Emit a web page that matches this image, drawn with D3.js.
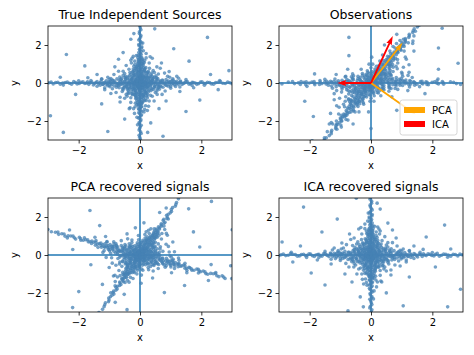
<!DOCTYPE html>
<html><head><meta charset="utf-8">
<script src="https://cdn.jsdelivr.net/npm/d3@7"></script>
<style>body{margin:0;background:#fff}svg{display:block;font-family:"DejaVu Sans",sans-serif}</style>
</head><body><svg id="c" width="474" height="355"></svg>
<script>
const corePts = [
[-0.85,0.03],[-0.72,-0.05],[-0.64,0.08],[-0.55,-0.02],[-0.48,0.06],[-0.41,-0.09],[-0.35,0.01],[-0.29,0.11],[-0.22,-0.04],[-0.17,0.07],[-0.11,-0.12],[-0.06,0.02],[-0.02,-0.06],[0.03,0.09],[0.08,-0.03],[0.13,0.05],[0.19,-0.1],[0.24,0.02],[0.31,-0.06],[0.37,0.08],[0.44,-0.01],[0.52,0.05],[0.59,-0.07],[0.67,0.02],[0.78,-0.04],[0.88,0.06],
[-0.62,0.18],[-0.5,-0.21],[-0.42,0.25],[-0.33,-0.16],[-0.26,0.22],[-0.19,-0.28],[-0.13,0.17],[-0.08,-0.19],[-0.03,0.29],[0.02,-0.24],[0.07,0.2],[0.11,-0.15],[0.16,0.27],[0.22,-0.23],[0.28,0.16],[0.35,-0.27],[0.41,0.21],[0.49,-0.18],[0.58,0.24],[-0.71,-0.15],[0.69,-0.2],[-0.04,0.14],[0.05,-0.13],[-0.15,0.12],[0.18,-0.09],
[-0.47,0.35],[-0.38,-0.41],[-0.3,0.46],[-0.24,-0.33],[-0.18,0.39],[-0.12,-0.48],[-0.07,0.33],[-0.02,-0.37],[0.03,0.44],[0.08,-0.31],[0.12,0.37],[0.17,-0.45],[0.23,0.32],[0.29,-0.38],[0.36,0.42],[0.44,-0.34],[-0.55,-0.36],[0.52,0.38],[-0.09,0.49],[0.06,-0.5],[-0.27,0.31],[0.25,-0.29],
[-0.33,0.55],[-0.25,-0.62],[-0.18,0.66],[-0.11,-0.55],[-0.05,0.58],[0.01,-0.67],[0.06,0.53],[0.1,-0.59],[0.15,0.68],[0.21,-0.54],[0.27,0.61],[-0.39,-0.52],[0.34,-0.65],[-0.14,-0.7],[0.02,0.7],[-0.06,-0.6],[0.09,0.62],
[-0.22,0.74],[-0.14,-0.82],[-0.08,0.88],[-0.03,-0.95],[0.02,0.79],[0.05,-0.76],[0.1,0.93],[0.16,-0.88],[-0.17,0.97],[0.19,0.81],[-0.06,-0.73],[0.04,-1.0],[-0.01,0.99],[0.07,0.72],[-0.1,-0.91],[0.24,-0.77],
[-0.01,0.01],[0.02,-0.02],[-0.04,0.05],[0.05,0.04],[-0.03,-0.03],[0.01,0.12],[-0.07,-0.1],[0.09,0.1],[-0.12,0.04],[0.14,-0.05],[0.0,-0.16],[-0.02,0.22],[0.04,-0.28],[-0.09,0.26],[0.11,0.3],[-0.05,-0.33],[0.2,0.12],[-0.21,-0.1],[0.15,-0.2],[-0.16,0.18],[0.01,0.36],[-0.01,-0.42],[0.26,-0.01],[-0.26,0.03],[0.33,0.05],[-0.31,-0.04],[0.07,0.16],[-0.08,-0.2],
[-0.66,0.31],[0.63,-0.33],[-0.58,-0.45],[0.6,0.47],[0.73,0.15],[-0.77,-0.22],[0.47,0.55],[-0.45,-0.6],[0.4,-0.7],[-0.36,0.72]
];
const coreFillPts = [
[-0.28,-0.45],[-0.21,0.47],[-0.14,-0.41],[0.13,0.44],[0.2,-0.41],[0.27,0.47],
[-0.25,0.12],[-0.18,-0.06],[-0.11,0.21],[-0.05,-0.24],[0.03,0.27],[0.1,-0.22],[0.17,0.06],[0.24,-0.14],[0.29,0.29],
[-0.29,-0.22],[-0.23,0.38],[-0.15,-0.35],[-0.07,0.42],[0.0,-0.47],[0.06,0.38],[0.14,-0.34],[0.21,0.4],[0.28,-0.46],
[-0.2,0.02],[-0.13,-0.15],[-0.04,0.09],[0.04,-0.09],[0.12,0.15],[0.19,-0.03],[-0.09,0.06],[0.09,-0.12],[0.0,0.19],[0.0,-0.06],
[-0.58,0.12],[-0.52,-0.13],[-0.46,0.17],[-0.4,-0.26],[-0.34,0.2],[0.34,-0.14],[0.4,0.13],[0.46,-0.24],[0.53,0.12],[0.58,-0.12],[-0.57,-0.29],[-0.49,0.29],[-0.38,0.04],[0.38,-0.02],[0.48,0.3],[0.56,-0.31],[-0.44,-0.05],[0.45,0.05],[-0.62,-0.06],[0.63,0.07],[-0.35,-0.32],[0.33,0.33],
[-0.19,0.52],[0.18,-0.52],[-0.1,0.6],[0.1,-0.64],[-0.02,0.64],[0.03,-0.57],[-0.15,0.78],[0.14,-0.72],[-0.04,0.83],[0.04,-0.86],[0.12,0.8],[-0.12,-0.77],[-0.07,0.95],[0.08,-0.97],[0.17,0.58],[-0.17,-0.6],[0.0,0.9],[0.0,-0.8],[-0.11,0.7],[0.11,-0.68],
[-0.92,-0.08],[-0.82,0.1],[-0.76,-0.12],[-0.68,0.15],[0.66,-0.14],[0.74,0.11],[0.83,-0.09],[0.93,0.1],[-0.88,0.13],[0.86,-0.13],[-0.7,-0.02],[0.72,0.0],[-0.8,0.0],[0.81,0.02],
[-0.08,1.02],[0.07,-1.06],[0.1,1.1],[-0.1,-1.15],[-0.05,1.18],[0.06,-1.25],[0.08,1.25],[-0.07,1.33],[0.0,-1.36],
[-0.5,0.5],[0.5,-0.5],[-0.42,-0.7],[0.43,0.66],[-0.3,-0.78],[0.31,0.77],[-0.55,0.62],[0.56,-0.6],[0.38,0.52],[-0.37,-0.55],
[-1.25,0.22],[-1.15,-0.25],[-1.05,0.3],[-0.98,-0.2],[-0.95,0.24],[1.0,-0.27],[1.07,0.22],[1.16,-0.18],[1.26,0.25],[0.97,0.3],[-1.3,-0.12],[1.32,0.1],[-0.9,-0.3],[0.9,0.35],
[-0.3,1.2],[0.28,-1.22],[-0.22,1.4],[0.24,-1.45],[0.2,1.55],[-0.18,-1.6],[0.3,1.05],[-0.3,-1.02],[-0.26,1.3],[0.33,1.38],[-0.32,-1.3],[0.15,-1.38],
[-0.7,0.62],[0.72,-0.6],[-0.65,-0.75],[0.66,0.78],[-0.85,0.45],[0.82,-0.42],[-0.45,0.92],[0.46,-0.95],[-0.78,-0.5],[0.8,0.52]
];
const coreDensePts = [
[-0.6,0.0],[-0.5,0.08],[-0.45,-0.15],[-0.36,0.12],[-0.3,-0.1],[-0.24,0.26],[-0.2,-0.2],[-0.16,0.32],[-0.12,-0.28],[-0.06,0.36],[-0.02,-0.3],[0.02,0.32],[0.07,-0.38],[0.1,0.26],[0.15,-0.27],[0.2,0.22],[0.25,-0.21],[0.3,0.12],[0.36,-0.1],[0.42,0.16],[0.5,-0.05],[0.55,0.18],[0.62,-0.2],[-0.68,-0.25],
[-0.25,0.58],[-0.16,-0.5],[-0.08,0.55],[-0.03,-0.52],[0.05,0.6],[0.13,-0.6],[0.22,0.52],[0.24,-0.6],[-0.12,0.85],[0.13,-0.95],[0.06,1.02],[-0.05,-1.1],[0.15,1.2],[-0.16,-1.25],
[-0.95,0.07],[-1.0,-0.12],[-1.1,0.12],[-1.2,-0.08],[0.95,-0.06],[1.03,0.12],[1.12,-0.1],[1.2,0.09],
[-0.15,0.0],[0.15,0.0],[0.0,0.05],[0.0,-0.25],[0.06,0.08],[-0.1,-0.04],[-0.35,0.38],[0.36,-0.4],[-0.42,-0.32],[0.4,0.35],[0.05,0.48],[-0.05,0.7],[0.0,-0.64],[-0.2,-0.4],
[-0.65,-0.1],[-0.6,0.25],[-0.53,-0.26],[-0.47,0.22],[-0.43,-0.2],[-0.39,0.31],[-0.32,-0.26],[-0.27,0.18],[-0.21,-0.15],[0.21,0.15],[0.27,-0.18],[0.32,0.24],[0.39,-0.31],[0.43,0.26],[0.47,-0.16],[0.54,0.27],[0.6,-0.25],[0.66,0.12],
[-0.27,-0.55],[-0.22,0.62],[-0.15,-0.66],[-0.1,0.78],[-0.05,-0.85],[0.05,0.86],[0.1,-0.8],[0.16,0.75],[0.22,-0.68],[0.26,0.56],[-0.2,0.88],[0.2,-0.92],[-0.09,-1.02],[0.1,1.0],
[-0.15,0.45],[0.15,-0.45],[-0.1,0.12],[0.1,-0.08],[-0.05,-0.15],[0.05,0.22],[-0.22,-0.3],[0.22,0.3],[-0.35,-0.05],[0.35,0.02],[0.0,0.42],[0.0,-0.38],
[-0.75,0.22],[0.75,-0.22],[-0.85,-0.15],[0.85,0.18],[-1.0,0.2],[1.0,-0.18],[-0.55,0.4],[0.55,-0.42]
];
const hArmPts = [
[-0.95,-0.02],[-1.02,0.05],[-1.1,-0.07],[-1.18,0.01],[-1.27,0.09],[-1.35,-0.04],[-1.44,0.03],[-1.52,-0.1],[-1.63,0.02],[-1.71,0.06],[-1.8,-0.03],[-1.92,0.04],[-2.05,-0.05],[-2.16,0.08],[-2.3,-0.01],[-2.44,0.03],[-2.6,-0.06],[-2.75,0.02],[-2.9,0.05],[-3.1,-0.02],[-3.4,0.03],[-3.8,-0.04],[-4.3,0.02],
[0.96,0.03],[1.04,-0.05],[1.12,0.08],[1.2,-0.02],[1.29,0.04],[1.37,-0.08],[1.46,0.01],[1.55,0.06],[1.65,-0.04],[1.74,0.02],[1.85,-0.07],[1.97,0.05],[2.08,-0.01],[2.2,0.04],[2.33,-0.05],[2.47,0.02],[2.62,0.07],[2.78,-0.03],[2.93,0.01],[3.2,0.04],[3.5,-0.02],[3.9,0.03],[4.5,-0.01],
[-0.9,0.16],[-1.05,-0.14],[-1.25,0.2],[-1.4,-0.17],[-1.6,0.13],[0.92,-0.17],[1.08,0.15],[1.3,-0.21],[1.5,0.18],[1.7,-0.13],[-2.0,0.12],[2.1,-0.12],[-2.5,-0.11],[2.6,0.13],
[-0.99,0.06],[-1.06,-0.03],[-1.14,0.04],[-1.22,-0.06],[-1.31,0.01],[-1.4,0.07],[-1.48,-0.03],[-1.57,0.05],[-1.67,-0.07],[-1.75,0.0],[-1.86,0.06],[-1.98,-0.02],[-2.1,0.03],[-2.23,-0.06],[-2.37,0.05],[-2.52,0.0],[-2.68,0.04],[-2.83,-0.05],[-2.97,0.01],[-3.25,0.05],[-3.6,-0.03],
[1.0,0.06],[1.08,-0.03],[1.16,0.02],[1.25,-0.07],[1.33,0.05],[1.42,-0.02],[1.5,0.08],[1.6,-0.06],[1.7,0.04],[1.8,0.0],[1.91,-0.04],[2.02,0.06],[2.14,-0.03],[2.27,0.02],[2.4,-0.06],[2.55,0.04],[2.7,-0.01],[2.86,0.05],[3.0,-0.04],[3.35,0.02],[3.7,-0.05]
];
const vArmPts = [
[0.02,1.05],[-0.03,1.12],[0.05,1.2],[-0.01,1.28],[0.03,1.37],[-0.06,1.46],[0.01,1.55],[0.04,1.66],[-0.02,1.78],[0.06,1.9],[-0.04,2.03],[0.02,2.18],[-0.01,2.33],[0.03,2.5],[-0.02,2.7],[0.01,2.9],[-0.03,3.2],[0.02,3.7],[-0.01,4.4],
[-0.02,-1.04],[0.04,-1.11],[-0.05,-1.19],[0.01,-1.3],[-0.03,-1.4],[0.06,-1.5],[-0.01,-1.61],[0.03,-1.73],[-0.04,-1.86],[0.02,-2.0],[-0.02,-2.15],[0.01,-2.3],[-0.03,-2.48],[0.04,-2.66],[-0.01,-2.85],[0.02,-3.1],[-0.02,-3.6],[0.01,-4.2],
[0.14,1.08],[-0.17,1.15],[0.2,1.32],[-0.12,1.44],[0.11,1.7],[-0.15,-1.06],[0.18,-1.2],[-0.21,-1.35],[0.13,-1.52],[-0.1,-1.8],[0.09,2.1],[-0.08,-2.2],
[-0.04,1.08],[0.03,1.16],[-0.05,1.24],[0.06,1.33],[-0.02,1.42],[0.04,1.5],[-0.04,1.6],[0.0,1.72],[0.05,1.84],[-0.03,1.96],[0.04,2.1],[-0.04,2.26],[0.02,2.42],[-0.02,2.6],[0.03,2.8],[-0.01,3.0],[0.01,3.4],
[0.03,-1.08],[-0.03,-1.15],[0.04,-1.25],[-0.05,-1.35],[0.02,-1.45],[-0.04,-1.56],[0.05,-1.67],[-0.02,-1.8],[0.03,-1.93],[-0.03,-2.08],[0.04,-2.22],[-0.01,-2.39],[0.02,-2.57],[-0.03,-2.75],[0.01,-2.95],[-0.02,-3.3]
];
const outlierPts = [
[-2.4,1.5],[-1.05,-2.55],[0.75,-2.8],[1.6,1.15],[2.9,0.65],[-2.92,-1.72],[0.48,2.85],[-0.7,1.25],[0.95,0.6],[-0.95,-0.55],[1.3,-0.45],[-1.4,0.45],[0.62,-1.35],[-0.55,1.6],[0.35,-2.1],[-0.3,2.3],[1.95,-0.9],[-1.8,0.9],[1.1,1.8],[-0.5,-1.9],[2.3,0.45],[-2.1,-0.6],[0.85,-0.95],[-0.82,0.85],[0.4,1.3],[-0.35,-1.35],[1.5,-1.5],[-1.25,-1.1],[2.55,-0.35],[-2.6,0.3],[0.25,-2.6],[-0.2,2.6],[0.7,1.05],[-0.65,-1.0],[1.2,0.35],[-1.15,-0.35],[0.3,-0.95],[-0.28,1.05],[1.75,-0.25],[-1.7,0.28],[0.55,0.85],[-0.5,-0.8],[3.5,1.2],[-3.6,-0.9],[1.0,3.5],[-0.9,-3.4],[4.0,-0.8],[-0.6,4.2],[2.2,2.4],[-2.5,-2.6],[0.15,0.62],[-0.22,-0.58]
];
// linear maps from sources to each panel (2x2 matrices, row-major)
const mixSources = [[1,0],[0,1]];
const mixObserved = [[0.8,0.8],[0,1.6]];
const mixPCA = [[0.93,0.4],[-0.4,0.92]];
const mixICA = [[-1,0],[0,1.05]];
const titles = ["True Independent Sources","Observations","PCA recovered signals","ICA recovered signals"];
const tickValues = [-2,0,2];
const legendLabels = ["PCA","ICA"];
const legendColors = ["orange","red"];
// arrow tips (data units) in the Observations panel
const pcaArrows = [[1.03,2.12],[1.45,-1.65]];
const icaArrows = [[0.71,2.47],[-1.1,0]];

// ---- drawing ----
const svg = d3.select("#c");
const allPts = corePts.concat(coreFillPts, coreDensePts, hArmPts, vArmPts, outlierPts);
const mats = [mixSources, mixObserved, mixPCA, mixICA];
const W = 184, H = 114;
const origins = [[48,26],[279,26],[48,198],[279,198]];
const fmt = d => d < 0 ? "\u2212" + Math.abs(d) : String(d);

origins.forEach((o, i) => {
  const g = svg.append("g").attr("transform", `translate(${o[0]},${o[1]})`);
  const x = d3.scaleLinear().domain([-3,3]).range([0,W]);
  const y = d3.scaleLinear().domain([-3,3]).range([H,0]);
  const clipId = "clip" + i;
  g.append("clipPath").attr("id", clipId).append("rect").attr("width", W).attr("height", H);
  const m = mats[i];
  const pts = allPts.map(p => [m[0][0]*p[0] + m[0][1]*p[1], m[1][0]*p[0] + m[1][1]*p[1]]);
  const plot = g.append("g").attr("clip-path", `url(#${clipId})`);
  plot.append("line").attr("x1", x(-3)).attr("x2", x(3)).attr("y1", y(0)).attr("y2", y(0))
    .attr("stroke", "#1f77b4").attr("stroke-width", 1.5);
  plot.append("line").attr("x1", x(0)).attr("x2", x(0)).attr("y1", y(-3)).attr("y2", y(3))
    .attr("stroke", "#1f77b4").attr("stroke-width", 1.5);
  plot.selectAll("circle").data(pts).join("circle")
    .attr("cx", d => x(d[0])).attr("cy", d => y(d[1])).attr("r", 1.8)
    .attr("fill", "steelblue").attr("fill-opacity", 0.75);

  if (i === 1) {
    const arrow = (tip, color) => {
      const x0 = x(0), y0 = y(0), x1 = x(tip[0]), y1 = y(tip[1]);
      const dx = x1 - x0, dy = y1 - y0, L = Math.hypot(dx, dy);
      const ux = dx / L, uy = dy / L, nx = -uy, ny = ux;
      const w = 0.92, hl = 9, hw = 2.9, ha = 8;
      const P = (a, b) => [x0 + ux*a + nx*b, y0 + uy*a + ny*b];
      const poly = [P(0,-w),P(L-ha,-w),P(L-hl,-hw),P(L,0),P(L-hl,hw),P(L-ha,w),P(0,w)];
      plot.append("polygon").attr("points", poly.map(p => p.join(",")).join(" ")).attr("fill", color);
    };
    pcaArrows.forEach(t => arrow(t, legendColors[0]));
    icaArrows.forEach(t => arrow(t, legendColors[1]));
    const lg = g.append("g").attr("transform", `translate(${W-63},${H-40})`);
    lg.append("rect").attr("width", 57).attr("height", 35).attr("rx", 2.5)
      .attr("fill", "white").attr("fill-opacity", 0.8).attr("stroke", "#cccccc").attr("stroke-width", 0.8);
    legendLabels.forEach((lab, k) => {
      lg.append("rect").attr("x", 4).attr("y", 7 + k*14).attr("width", 21).attr("height", 6).attr("fill", legendColors[k]);
      lg.append("text").attr("x", 32).attr("y", 14 + k*14).attr("font-size", 10).attr("fill", "#000").text(lab);
    });
  }

  g.append("rect").attr("width", W).attr("height", H).attr("fill", "none").attr("stroke", "#000").attr("stroke-width", 0.8);
  const xa = g.append("g").attr("transform", `translate(0,${H})`)
    .call(d3.axisBottom(x).tickValues(tickValues).tickFormat(fmt).tickSize(3.5).tickPadding(3));
  const ya = g.append("g")
    .call(d3.axisLeft(y).tickValues(tickValues).tickFormat(fmt).tickSize(3.5).tickPadding(3));
  [xa, ya].forEach(a => {
    a.select(".domain").remove();
    a.selectAll("text").attr("font-size", 10).attr("font-family", "DejaVu Sans").attr("fill", "#000");
    a.selectAll("line").attr("stroke", "#000").attr("stroke-width", 0.8);
  });
  g.append("text").attr("x", W/2).attr("y", -7).attr("text-anchor", "middle")
    .attr("font-size", 12.5).attr("fill", "#000").text(titles[i]);
  g.append("text").attr("x", W/2).attr("y", H + 29).attr("text-anchor", "middle")
    .attr("font-size", 10).attr("fill", "#000").text("x");
  g.append("text").attr("transform", `translate(-30,${H/2}) rotate(-90)`).attr("text-anchor", "middle")
    .attr("font-size", 10).attr("fill", "#000").text("y");
});
</script></body></html>
